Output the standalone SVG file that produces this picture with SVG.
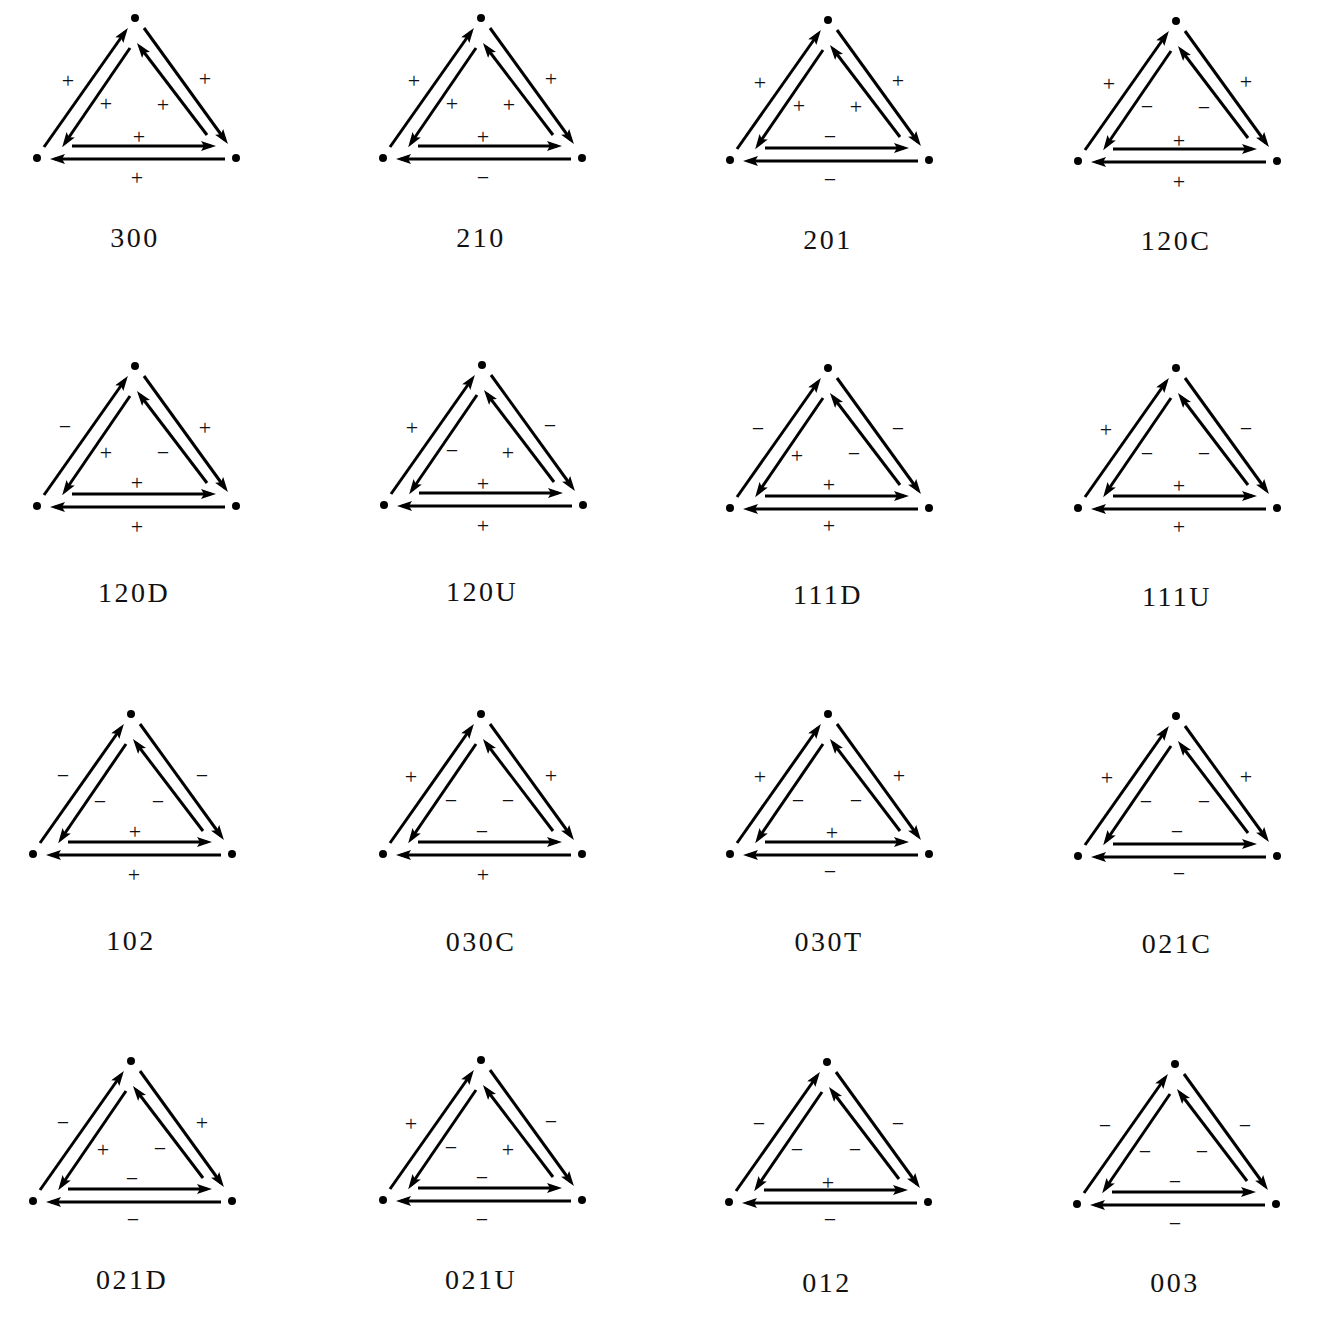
<svg xmlns="http://www.w3.org/2000/svg" xmlns:xlink="http://www.w3.org/1999/xlink" width="1320" height="1319" viewBox="0 0 1320 1319">
<style>
.e{stroke:#000;stroke-width:3;fill:none;marker-end:url(#ah)}
.d{fill:#000}
.s{font-family:"Liberation Serif",serif;font-size:22px;fill:#111;text-anchor:middle}
.t{font-family:"Liberation Serif",serif;font-size:28px;fill:#111;text-anchor:middle;letter-spacing:2.5px}
</style>
<defs>
<marker id="ah" markerUnits="userSpaceOnUse" markerWidth="18" markerHeight="12" refX="10" refY="5" orient="auto">
<path d="M0,0 L15,5 L0,10 L3,5 Z" fill="#000"/>
</marker>
<g id="dots">
<circle class="d" cx="0" cy="0" r="4"/>
<circle class="d" cx="-98" cy="140" r="4"/>
<circle class="d" cx="101" cy="140" r="4"/>
</g>
<g id="arrows">
<line class="e" x1="-91" y1="129" x2="-10" y2="14"/>
<line class="e" x1="-5" y1="30" x2="-70" y2="125"/>
<line class="e" x1="9" y1="10" x2="90" y2="122"/>
<line class="e" x1="72" y1="117" x2="5" y2="29"/>
<line class="e" x1="-63" y1="128" x2="76" y2="128"/>
<line class="e" x1="90" y1="141" x2="-80" y2="141"/>
</g>
</defs>

<g id="triad-300" transform="translate(135,18)">
<g class="connectors"><use href="#arrows"/></g><use href="#dots"/>
<text class="s" x="-67" y="70">+</text><text class="s" x="70" y="68">+</text><text class="s" x="-29" y="93">+</text><text class="s" x="28" y="94">+</text><text class="s" x="4" y="126">+</text><text class="s" x="2" y="167">+</text>
<text class="t" x="0" y="229">300</text>
</g>

<g id="triad-210" transform="translate(481,18)">
<g class="connectors"><use href="#arrows"/></g><use href="#dots"/>
<text class="s" x="-67" y="70">+</text><text class="s" x="70" y="68">+</text><text class="s" x="-29" y="93">+</text><text class="s" x="28" y="94">+</text><text class="s" x="2" y="126">+</text><text class="s" x="2" y="167">−</text>
<text class="t" x="0" y="229">210</text>
</g>

<g id="triad-201" transform="translate(828,20)">
<g class="connectors"><use href="#arrows"/></g><use href="#dots"/>
<text class="s" x="-68" y="70">+</text><text class="s" x="70" y="68">+</text><text class="s" x="-29" y="93">+</text><text class="s" x="28" y="94">+</text><text class="s" x="2" y="124">−</text><text class="s" x="2" y="167">−</text>
<text class="t" x="0" y="229">201</text>
</g>

<g id="triad-120C" transform="translate(1176,21)">
<g class="connectors"><use href="#arrows"/></g><use href="#dots"/>
<text class="s" x="-67" y="70">+</text><text class="s" x="70" y="68">+</text><text class="s" x="-29" y="93">−</text><text class="s" x="28" y="94">−</text><text class="s" x="3" y="127">+</text><text class="s" x="3" y="168">+</text>
<text class="t" x="0" y="229">120C</text>
</g>

<g id="triad-120D" transform="translate(135,366)">
<g class="connectors"><use href="#arrows"/></g><use href="#dots"/>
<text class="s" x="-70" y="68">−</text><text class="s" x="70" y="69">+</text><text class="s" x="-29" y="94">+</text><text class="s" x="28" y="94">−</text><text class="s" x="2" y="124">+</text><text class="s" x="2" y="168">+</text>
<text class="t" x="-1" y="236">120D</text>
</g>

<g id="triad-120U" transform="translate(482,365)">
<g class="connectors"><use href="#arrows"/></g><use href="#dots"/>
<text class="s" x="-70" y="70">+</text><text class="s" x="68" y="68">−</text><text class="s" x="-30" y="93">−</text><text class="s" x="26" y="95">+</text><text class="s" x="1" y="126">+</text><text class="s" x="1" y="168">+</text>
<text class="t" x="0" y="236">120U</text>
</g>

<g id="triad-111D" transform="translate(828,368)">
<g class="connectors"><use href="#arrows"/></g><use href="#dots"/>
<text class="s" x="-70" y="68">−</text><text class="s" x="70" y="68">−</text><text class="s" x="-31" y="95">+</text><text class="s" x="26" y="93">−</text><text class="s" x="1" y="124">+</text><text class="s" x="1" y="165">+</text>
<text class="t" x="0" y="236">111D</text>
</g>

<g id="triad-111U" transform="translate(1176,368)">
<g class="connectors"><use href="#arrows"/></g><use href="#dots"/>
<text class="s" x="-70" y="69">+</text><text class="s" x="70" y="68">−</text><text class="s" x="-29" y="93">−</text><text class="s" x="28" y="93">−</text><text class="s" x="3" y="125">+</text><text class="s" x="3" y="166">+</text>
<text class="t" x="1" y="238">111U</text>
</g>

<g id="triad-102" transform="translate(131,714)">
<g class="connectors"><use href="#arrows"/></g><use href="#dots"/>
<text class="s" x="-68" y="69">−</text><text class="s" x="71" y="69">−</text><text class="s" x="-31" y="95">−</text><text class="s" x="27" y="95">−</text><text class="s" x="4" y="125">+</text><text class="s" x="3" y="168">+</text>
<text class="t" x="0" y="236">102</text>
</g>

<g id="triad-030C" transform="translate(481,714)">
<g class="connectors"><use href="#arrows"/></g><use href="#dots"/>
<text class="s" x="-70" y="70">+</text><text class="s" x="70" y="69">+</text><text class="s" x="-30" y="94">−</text><text class="s" x="27" y="94">−</text><text class="s" x="1" y="125">−</text><text class="s" x="2" y="168">+</text>
<text class="t" x="0" y="237">030C</text>
</g>

<g id="triad-030T" transform="translate(828,714)">
<g class="connectors"><use href="#arrows"/></g><use href="#dots"/>
<text class="s" x="-68" y="70">+</text><text class="s" x="71" y="69">+</text><text class="s" x="-30" y="94">−</text><text class="s" x="28" y="94">−</text><text class="s" x="4" y="126">+</text><text class="s" x="2" y="165">−</text>
<text class="t" x="1" y="237">030T</text>
</g>

<g id="triad-021C" transform="translate(1176,716)">
<g class="connectors"><use href="#arrows"/></g><use href="#dots"/>
<text class="s" x="-69" y="69">+</text><text class="s" x="70" y="68">+</text><text class="s" x="-30" y="93">−</text><text class="s" x="28" y="93">−</text><text class="s" x="1" y="123">−</text><text class="s" x="3" y="165">−</text>
<text class="t" x="1" y="237">021C</text>
</g>

<g id="triad-021D" transform="translate(131,1061)">
<g class="connectors"><use href="#arrows"/></g><use href="#dots"/>
<text class="s" x="-68" y="69">−</text><text class="s" x="71" y="69">+</text><text class="s" x="-28" y="96">+</text><text class="s" x="29" y="95">−</text><text class="s" x="1" y="125">−</text><text class="s" x="2" y="166">−</text>
<text class="t" x="1" y="228">021D</text>
</g>

<g id="triad-021U" transform="translate(481,1060)">
<g class="connectors"><use href="#arrows"/></g><use href="#dots"/>
<text class="s" x="-70" y="71">+</text><text class="s" x="70" y="69">−</text><text class="s" x="-30" y="95">−</text><text class="s" x="27" y="97">+</text><text class="s" x="1" y="125">−</text><text class="s" x="1" y="167">−</text>
<text class="t" x="0" y="229">021U</text>
</g>

<g id="triad-012" transform="translate(827,1062)">
<g class="connectors"><use href="#arrows"/></g><use href="#dots"/>
<text class="s" x="-68" y="69">−</text><text class="s" x="71" y="69">−</text><text class="s" x="-30" y="95">−</text><text class="s" x="28" y="95">−</text><text class="s" x="1" y="128">+</text><text class="s" x="3" y="165">−</text>
<text class="t" x="0" y="230">012</text>
</g>

<g id="triad-003" transform="translate(1175,1064)">
<g class="connectors"><use href="#arrows"/></g><use href="#dots"/>
<text class="s" x="-70" y="69">−</text><text class="s" x="70" y="69">−</text><text class="s" x="-30" y="95">−</text><text class="s" x="27" y="95">−</text><text class="s" x="0" y="125">−</text><text class="s" x="0" y="167">−</text>
<text class="t" x="0" y="228">003</text>
</g>
</svg>
